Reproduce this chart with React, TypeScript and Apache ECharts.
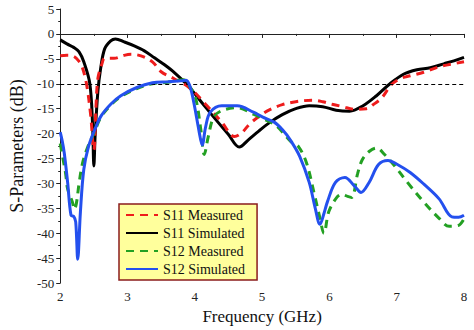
import React, { useEffect, useRef } from "react";
import * as echarts from "echarts";

const seriesNames = ["S11 Measured", "S11 Simulated", "S12 Measured", "S12 Simulated"];

const s11SimFreq = [2.0, 2.1, 2.2, 2.28, 2.35, 2.44, 2.48, 2.5, 2.52, 2.56, 2.6, 2.66, 2.75, 2.82, 2.95, 3.1, 3.25, 3.4, 3.55, 3.7, 3.9, 4.1, 4.3, 4.5, 4.66, 4.8, 4.95, 5.1, 5.3, 5.5, 5.7, 5.9, 6.1, 6.3, 6.5, 6.7, 6.9, 7.1, 7.3, 7.5, 7.7, 7.85, 8.0];
const s11SimDb = [-1.2, -2.0, -2.7, -3.6, -5.6, -10, -18, -26.5, -20, -11.5, -7, -3, -1.4, -1.0, -1.6, -2.4, -3.4, -4.8, -6.2, -7.8, -10.4, -13.7, -17.0, -20.2, -22.7, -21.2, -19.5, -17.9, -16.2, -15.0, -14.4, -14.6, -15.3, -15.5, -14.4, -12.4, -10.0, -8.1, -7.2, -6.8, -6.0, -5.4, -4.7];

const s11MeasFreq = [2.0, 2.1, 2.2, 2.28, 2.33, 2.39, 2.45, 2.5, 2.53, 2.56, 2.62, 2.66, 2.8, 2.95, 3.05, 3.2, 3.37, 3.5, 3.68, 3.92, 4.16, 4.4, 4.59, 4.7, 4.82, 5.0, 5.13, 5.3, 5.5, 5.75, 5.9, 6.04, 6.2, 6.37, 6.55, 6.65, 6.78, 6.92, 7.05, 7.2, 7.4, 7.63, 7.8, 8.0];
const s11MeasDb = [-4.4, -4.3, -4.5, -5.5, -6.8, -10, -16, -23.3, -15, -8.9, -6.0, -4.9, -4.9, -4.3, -4.1, -4.4, -5.6, -7.6, -8.9, -10.8, -14.1, -17.7, -20.6, -19.8, -18, -16.1, -15.1, -14.2, -13.6, -13.3, -13.6, -14.1, -14.6, -15.1, -15.0, -14.2, -12.8, -10.2, -9.0, -8.4, -7.7, -6.6, -6.1, -5.6];

const s12MeasFreq = [2.0, 2.04, 2.08, 2.11, 2.18, 2.21, 2.24, 2.28, 2.33, 2.4, 2.51, 2.61, 2.75, 2.9, 3.13, 3.37, 3.6, 3.83, 3.91, 4.01, 4.09, 4.14, 4.2, 4.28, 4.4, 4.63, 4.87, 5.01, 5.2, 5.42, 5.54, 5.66, 5.78, 5.85, 5.92, 5.99, 6.11, 6.19, 6.27, 6.33, 6.42, 6.49, 6.59, 6.7, 6.82, 6.97, 7.16, 7.4, 7.63, 7.78, 7.92, 8.0];
const s12MeasDb = [-22, -25, -28, -31.1, -33.7, -35.2, -34, -30, -26, -23, -19.6, -16.6, -14.3, -12.6, -11, -10, -9.7, -9.2, -10.3, -12.8, -19.3, -24.2, -20.6, -16.7, -15.4, -14.8, -16.1, -17, -18.3, -21.5, -22.6, -25.9, -32.4, -36.4, -40, -35.7, -32.8, -32.2, -32.6, -32.8, -28, -25.2, -23.6, -22.9, -24.2, -26.5, -29.8, -33.7, -37, -38.6, -38.4, -37.1];

const s12SimFreq = [2.0, 2.03, 2.06, 2.11, 2.16, 2.2, 2.23, 2.26, 2.3, 2.35, 2.42, 2.51, 2.61, 2.75, 2.9, 3.13, 3.37, 3.6, 3.8, 3.87, 3.93, 3.99, 4.06, 4.11, 4.16, 4.23, 4.4, 4.63, 4.87, 5.01, 5.18, 5.3, 5.42, 5.56, 5.7, 5.79, 5.86, 5.92, 5.97, 6.09, 6.23, 6.37, 6.47, 6.59, 6.73, 6.87, 7.01, 7.2, 7.4, 7.63, 7.82, 7.92, 8.0];
const s12SimDb = [-19.7, -21.5, -23.9, -29.8, -36.4, -36.6, -37.7, -45.2, -35.7, -27.2, -22.6, -19.3, -16.4, -14.1, -12.4, -10.8, -9.8, -9.6, -9.4, -9.3, -10.6, -14.1, -19.3, -22.3, -18.7, -15.7, -14.4, -14.4, -15.7, -16.7, -17.7, -19.2, -21.3, -24.6, -29.8, -35, -38.2, -36, -33.7, -29.8, -28.8, -30.5, -31.8, -29.8, -26.2, -25.4, -26.2, -27.8, -30.1, -33.1, -36.7, -36.8, -36.4];

const xTicks = [2, 3, 4, 5, 6, 7, 8];
const yTicks = [5, 0, -5, -10, -15, -20, -25, -30, -35, -40, -45, -50];
const threshold = -10;

const pairs = (xs: number[], ys: number[]) => xs.map((x, i) => [x, ys[i]]);

const FONT = '"Liberation Serif", "DejaVu Serif", "Times New Roman", serif';

export default function App() {
  const ref = useRef<HTMLDivElement>(null);
  useEffect(() => {
    if (!ref.current) return;
    const chart = echarts.init(ref.current, undefined, { renderer: "svg" });
    const common = { type: "line", showSymbol: false, symbol: "none", smooth: 0.35 };
    chart.setOption({
      animation: false,
      backgroundColor: "#ffffff",
      textStyle: { fontFamily: FONT },
      grid: { left: 44, right: 10, top: 9, bottom: 41 },
      legend: {
        data: seriesNames,
        orient: "vertical",
        left: 119,
        top: 204,
        itemWidth: 32,
        itemHeight: 14,
        itemGap: 4,
        padding: [4, 12, 4, 6],
        backgroundColor: "#ffff9c",
        borderColor: "#8b1c1c",
        borderWidth: 1.5,
        borderRadius: 0,
        itemStyle: { opacity: 0 },
        textStyle: { fontFamily: FONT, fontSize: 14, color: "#111" },
      },
      xAxis: {
        type: "value",
        min: xTicks[0],
        max: xTicks[xTicks.length - 1],
        interval: 1,
        name: "Frequency (GHz)",
        nameLocation: "middle",
        nameGap: 20,
        nameTextStyle: { fontFamily: FONT, fontSize: 17, color: "#111", verticalAlign: "top" },
        axisLine: { lineStyle: { color: "#222", width: 1 } },
        axisTick: { show: true, length: 4, inside: false, lineStyle: { color: "#222" } },
        minorTick: { show: true, splitNumber: 2, length: 2, lineStyle: { color: "#222" } },
        splitLine: { show: false },
        axisLabel: { fontFamily: FONT, fontSize: 13, color: "#222", margin: 7 },
      },
      yAxis: {
        type: "value",
        min: yTicks[yTicks.length - 1],
        max: yTicks[0],
        interval: 5,
        name: "S-Parameters (dB)",
        nameLocation: "middle",
        nameGap: 27,
        nameTextStyle: { fontFamily: FONT, fontSize: 18, color: "#111" },
        axisLine: { show: true, lineStyle: { color: "#222", width: 1 } },
        axisTick: { show: true, length: 4, inside: false, lineStyle: { color: "#222" } },
        minorTick: { show: true, splitNumber: 2, length: 2, lineStyle: { color: "#222" } },
        splitLine: { show: false },
        axisLabel: { fontFamily: FONT, fontSize: 13, color: "#222", margin: 6 },
      },
      series: [
        {
          ...common,
          name: "S11 Simulated",
          z: 2,
          data: pairs(s11SimFreq, s11SimDb),
          lineStyle: { color: "#000000", width: 3 },
          itemStyle: { color: "#000000" },
          markLine: {
            silent: true,
            symbol: ["none", "none"],
            label: { show: false },
            lineStyle: { color: "#000", type: [4, 3], width: 1 },
            data: [{ yAxis: threshold }],
          },
        },
        {
          ...common,
          name: "S11 Measured",
          z: 3,
          data: pairs(s11MeasFreq, s11MeasDb),
          lineStyle: { color: "#ee1c1c", width: 3, type: [8, 6] },
          itemStyle: { color: "#ee1c1c" },
        },
        {
          ...common,
          name: "S12 Measured",
          z: 4,
          data: pairs(s12MeasFreq, s12MeasDb),
          lineStyle: { color: "#23a023", width: 3, type: [8, 6] },
          itemStyle: { color: "#23a023" },
        },
        {
          ...common,
          name: "S12 Simulated",
          z: 5,
          data: pairs(s12SimFreq, s12SimDb),
          lineStyle: { color: "#2450ee", width: 3 },
          itemStyle: { color: "#2450ee" },
        },
      ],
    });
    return () => chart.dispose();
  }, []);
  return <div ref={ref} style={{ width: 474, height: 330, position: "absolute", left: 0, top: 0 }} />;
}
